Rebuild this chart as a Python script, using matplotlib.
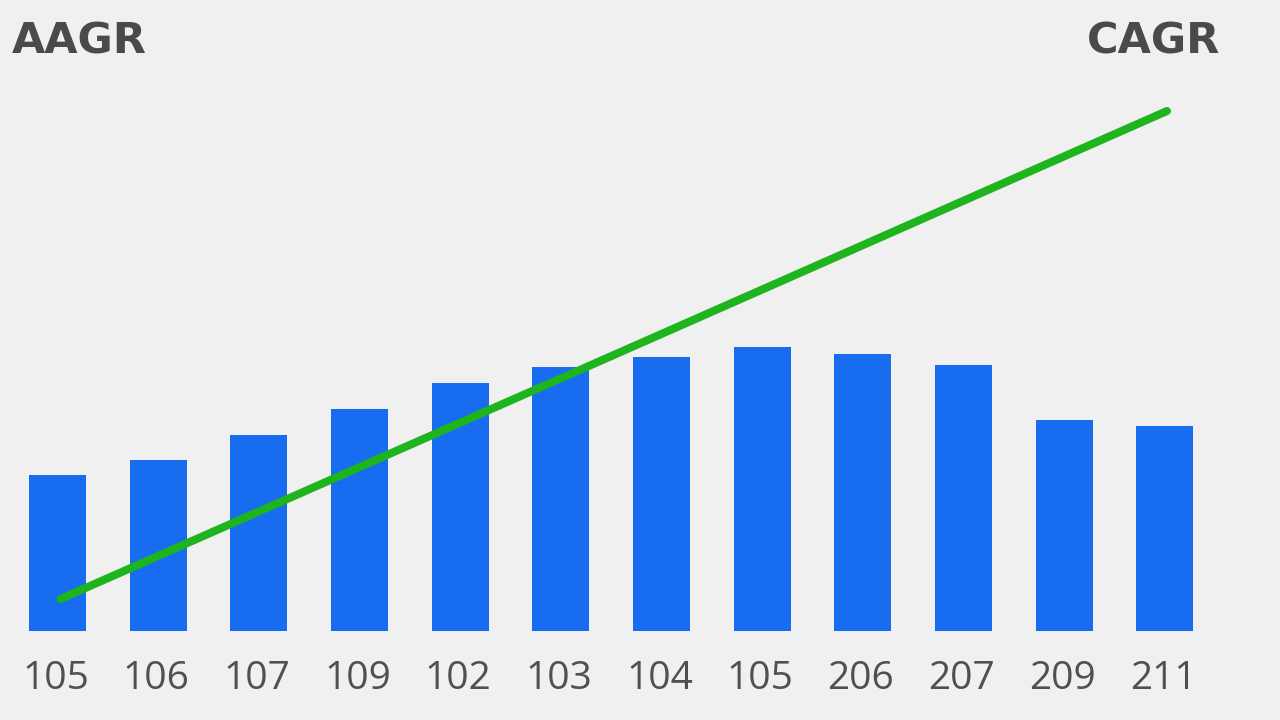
import matplotlib
matplotlib.use("Agg")
import matplotlib.pyplot as plt

labels = ["105", "106", "107", "109", "102", "103", "104", "105", "206", "207", "209", "211"]
bar_values = [156, 171, 196, 222, 248, 264, 274, 284, 277, 266, 211, 205]
line_x = [0.03, 11.02]
line_y = [32, 520]

W, H = 1280, 720
fig = plt.figure(figsize=(W / 100, H / 100), dpi=100)
bg = "#f0f0f0"
fig.patch.set_facecolor(bg)
ax = fig.add_axes([0, 0, 1, 1])
ax.set_facecolor(bg)

spacing = 100.68
x0 = 57.5
ax.set_xlim(-x0 / spacing, (W - x0) / spacing)
ax.set_ylim(-(H - 631), 631)

xs = list(range(len(bar_values)))
ax.bar(xs, bar_values, width=0.566, color="#186cf0", zorder=2)
ax.plot(line_x, line_y, color="#1db41d", linewidth=5.8, solid_capstyle="round", zorder=3)

for x, lab in zip(xs, labels):
    ax.text(x - 0.02, -48, lab, ha="center", va="center", fontsize=28,
            color="#505050", family="Open Sans")

fig.text(12 / W, 1 - 42 / H, "AAGR", ha="left", va="center", fontsize=31,
         fontweight="bold", color="#4a4a4a", family="DejaVu Sans")
fig.text(1220 / W, 1 - 42 / H, "CAGR", ha="right", va="center", fontsize=31,
         fontweight="bold", color="#4a4a4a", family="DejaVu Sans")

ax.axis("off")
fig.savefig("out.png", dpi=100, facecolor=bg)
